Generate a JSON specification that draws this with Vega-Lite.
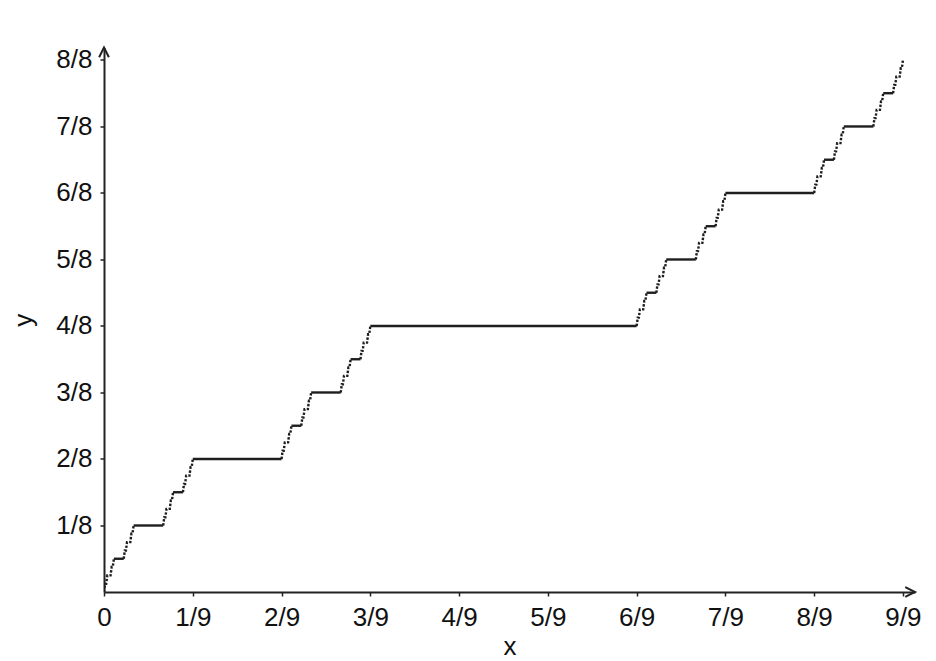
{
  "$schema": "https://vega.github.io/schema/vega-lite/v6.json",
  "autosize": "none",
  "width": 811,
  "height": 544.5,
  "padding": {"left": 104, "top": 47.5, "right": 21, "bottom": 69},
  "background": "white",
  "datasets": {
    "rises": [
      {"seg": 0, "x": 0, "y": 0}, {"seg": 0, "x": 1, "y": 1}, {"seg": 0, "x": 2, "y": 1}, {"seg": 0, "x": 3, "y": 2},
      {"seg": 0, "x": 6, "y": 2}, {"seg": 0, "x": 7, "y": 3}, {"seg": 0, "x": 8, "y": 3}, {"seg": 0, "x": 9, "y": 4},
      {"seg": 1, "x": 18, "y": 4}, {"seg": 1, "x": 19, "y": 5}, {"seg": 1, "x": 20, "y": 5}, {"seg": 1, "x": 21, "y": 6},
      {"seg": 1, "x": 24, "y": 6}, {"seg": 1, "x": 25, "y": 7}, {"seg": 1, "x": 26, "y": 7}, {"seg": 1, "x": 27, "y": 8},
      {"seg": 2, "x": 54, "y": 8}, {"seg": 2, "x": 55, "y": 9}, {"seg": 2, "x": 56, "y": 9}, {"seg": 2, "x": 57, "y": 10},
      {"seg": 2, "x": 60, "y": 10}, {"seg": 2, "x": 61, "y": 11}, {"seg": 2, "x": 62, "y": 11}, {"seg": 2, "x": 63, "y": 12},
      {"seg": 3, "x": 72, "y": 12}, {"seg": 3, "x": 73, "y": 13}, {"seg": 3, "x": 74, "y": 13}, {"seg": 3, "x": 75, "y": 14},
      {"seg": 3, "x": 78, "y": 14}, {"seg": 3, "x": 79, "y": 15}, {"seg": 3, "x": 80, "y": 15}, {"seg": 3, "x": 81, "y": 16},
      {"seg": 4, "x": 162, "y": 16}, {"seg": 4, "x": 163, "y": 17}, {"seg": 4, "x": 164, "y": 17}, {"seg": 4, "x": 165, "y": 18},
      {"seg": 4, "x": 168, "y": 18}, {"seg": 4, "x": 169, "y": 19}, {"seg": 4, "x": 170, "y": 19}, {"seg": 4, "x": 171, "y": 20},
      {"seg": 5, "x": 180, "y": 20}, {"seg": 5, "x": 181, "y": 21}, {"seg": 5, "x": 182, "y": 21}, {"seg": 5, "x": 183, "y": 22},
      {"seg": 5, "x": 186, "y": 22}, {"seg": 5, "x": 187, "y": 23}, {"seg": 5, "x": 188, "y": 23}, {"seg": 5, "x": 189, "y": 24},
      {"seg": 6, "x": 216, "y": 24}, {"seg": 6, "x": 217, "y": 25}, {"seg": 6, "x": 218, "y": 25}, {"seg": 6, "x": 219, "y": 26},
      {"seg": 6, "x": 222, "y": 26}, {"seg": 6, "x": 223, "y": 27}, {"seg": 6, "x": 224, "y": 27}, {"seg": 6, "x": 225, "y": 28},
      {"seg": 7, "x": 234, "y": 28}, {"seg": 7, "x": 235, "y": 29}, {"seg": 7, "x": 236, "y": 29}, {"seg": 7, "x": 237, "y": 30},
      {"seg": 7, "x": 240, "y": 30}, {"seg": 7, "x": 241, "y": 31}, {"seg": 7, "x": 242, "y": 31}, {"seg": 7, "x": 243, "y": 32},
      {"seg": 8, "x": 486, "y": 32}, {"seg": 8, "x": 487, "y": 33}, {"seg": 8, "x": 488, "y": 33}, {"seg": 8, "x": 489, "y": 34},
      {"seg": 8, "x": 492, "y": 34}, {"seg": 8, "x": 493, "y": 35}, {"seg": 8, "x": 494, "y": 35}, {"seg": 8, "x": 495, "y": 36},
      {"seg": 9, "x": 504, "y": 36}, {"seg": 9, "x": 505, "y": 37}, {"seg": 9, "x": 506, "y": 37}, {"seg": 9, "x": 507, "y": 38},
      {"seg": 9, "x": 510, "y": 38}, {"seg": 9, "x": 511, "y": 39}, {"seg": 9, "x": 512, "y": 39}, {"seg": 9, "x": 513, "y": 40},
      {"seg": 10, "x": 540, "y": 40}, {"seg": 10, "x": 541, "y": 41}, {"seg": 10, "x": 542, "y": 41}, {"seg": 10, "x": 543, "y": 42},
      {"seg": 10, "x": 546, "y": 42}, {"seg": 10, "x": 547, "y": 43}, {"seg": 10, "x": 548, "y": 43}, {"seg": 10, "x": 549, "y": 44},
      {"seg": 11, "x": 558, "y": 44}, {"seg": 11, "x": 559, "y": 45}, {"seg": 11, "x": 560, "y": 45}, {"seg": 11, "x": 561, "y": 46},
      {"seg": 11, "x": 564, "y": 46}, {"seg": 11, "x": 565, "y": 47}, {"seg": 11, "x": 566, "y": 47}, {"seg": 11, "x": 567, "y": 48},
      {"seg": 12, "x": 648, "y": 48}, {"seg": 12, "x": 649, "y": 49}, {"seg": 12, "x": 650, "y": 49}, {"seg": 12, "x": 651, "y": 50},
      {"seg": 12, "x": 654, "y": 50}, {"seg": 12, "x": 655, "y": 51}, {"seg": 12, "x": 656, "y": 51}, {"seg": 12, "x": 657, "y": 52},
      {"seg": 13, "x": 666, "y": 52}, {"seg": 13, "x": 667, "y": 53}, {"seg": 13, "x": 668, "y": 53}, {"seg": 13, "x": 669, "y": 54},
      {"seg": 13, "x": 672, "y": 54}, {"seg": 13, "x": 673, "y": 55}, {"seg": 13, "x": 674, "y": 55}, {"seg": 13, "x": 675, "y": 56},
      {"seg": 14, "x": 702, "y": 56}, {"seg": 14, "x": 703, "y": 57}, {"seg": 14, "x": 704, "y": 57}, {"seg": 14, "x": 705, "y": 58},
      {"seg": 14, "x": 708, "y": 58}, {"seg": 14, "x": 709, "y": 59}, {"seg": 14, "x": 710, "y": 59}, {"seg": 14, "x": 711, "y": 60},
      {"seg": 15, "x": 720, "y": 60}, {"seg": 15, "x": 721, "y": 61}, {"seg": 15, "x": 722, "y": 61}, {"seg": 15, "x": 723, "y": 62},
      {"seg": 15, "x": 726, "y": 62}, {"seg": 15, "x": 727, "y": 63}, {"seg": 15, "x": 728, "y": 63}, {"seg": 15, "x": 729, "y": 64}
    ],
    "flats": [
      {"x": 9, "x2": 18, "y": 4},
      {"x": 27, "x2": 54, "y": 8},
      {"x": 63, "x2": 72, "y": 12},
      {"x": 81, "x2": 162, "y": 16},
      {"x": 171, "x2": 180, "y": 20},
      {"x": 189, "x2": 216, "y": 24},
      {"x": 225, "x2": 234, "y": 28},
      {"x": 243, "x2": 486, "y": 32},
      {"x": 495, "x2": 504, "y": 36},
      {"x": 513, "x2": 540, "y": 40},
      {"x": 549, "x2": 558, "y": 44},
      {"x": 567, "x2": 648, "y": 48},
      {"x": 657, "x2": 666, "y": 52},
      {"x": 675, "x2": 702, "y": 56},
      {"x": 711, "x2": 720, "y": 60}
    ]
  },
  "layer": [
    {
      "data": {"name": "rises"},
      "mark": {"type": "line", "color": "#1e1e1e", "strokeWidth": 2.4, "strokeDash": [2.4, 1.6], "clip": true},
      "encoding": {
        "x": {
          "field": "x",
          "type": "quantitative",
          "title": "x",
          "scale": {"domain": [0, 740], "nice": false, "zero": true},
          "axis": {
            "values": [0, 81, 162, 243, 324, 405, 486, 567, 648, 729],
            "labelExpr": "datum.value == 0 ? '0' : (datum.value / 81) + '/9'",
            "grid": false,
            "domainColor": "#222",
            "domainWidth": 2,
            "tickColor": "#222",
            "tickSize": 4,
            "tickWidth": 1.5,
            "labelPadding": 8,
            "labelFontSize": 26,
            "labelFont": "Liberation Sans",
            "labelColor": "#111",
            "labelFlush": false,
            "titleFontSize": 26,
            "titleFont": "Liberation Sans",
            "titleFontWeight": "normal",
            "titleColor": "#111",
            "titlePadding": 3
          }
        },
        "y": {
          "field": "y",
          "type": "quantitative",
          "title": "y",
          "scale": {"domain": [0, 65.5], "nice": false, "zero": true},
          "axis": {
            "values": [8, 16, 24, 32, 40, 48, 56, 64],
            "labelExpr": "(datum.value / 8) + '/8'",
            "grid": false,
            "domainColor": "#222",
            "domainWidth": 2,
            "tickColor": "#222",
            "tickSize": 4,
            "tickWidth": 1.5,
            "labelPadding": 8,
            "labelFontSize": 26,
            "labelFont": "Liberation Sans",
            "labelColor": "#111",
            "labelFlush": false,
            "titleFontSize": 26,
            "titleFont": "Liberation Sans",
            "titleFontWeight": "normal",
            "titleColor": "#111",
            "titlePadding": 19
          }
        },
        "detail": {"field": "seg", "type": "nominal"}
      }
    },
    {
      "data": {"name": "flats"},
      "mark": {"type": "rule", "color": "#1e1e1e", "strokeWidth": 2.4},
      "encoding": {
        "x": {"field": "x", "type": "quantitative"},
        "x2": {"field": "x2"},
        "y": {"field": "y", "type": "quantitative"}
      }
    },
    {
      "data": {"values": [{}]},
      "mark": {
        "type": "point",
        "shape": "M-1,-0.5L0,0L-1,0.5",
        "filled": false,
        "stroke": "#222",
        "strokeWidth": 2,
        "size": 380,
        "opacity": 1
      },
      "encoding": {
        "x": {"datum": 740, "type": "quantitative"},
        "y": {"datum": 0, "type": "quantitative"}
      }
    },
    {
      "data": {"values": [{}]},
      "mark": {
        "type": "point",
        "shape": "M-0.5,1L0,0L0.5,1",
        "filled": false,
        "stroke": "#222",
        "strokeWidth": 2,
        "size": 380,
        "opacity": 1
      },
      "encoding": {
        "x": {"datum": 0, "type": "quantitative"},
        "y": {"datum": 65.5, "type": "quantitative"}
      }
    }
  ],
  "config": {
    "view": {"stroke": null}
  }
}
